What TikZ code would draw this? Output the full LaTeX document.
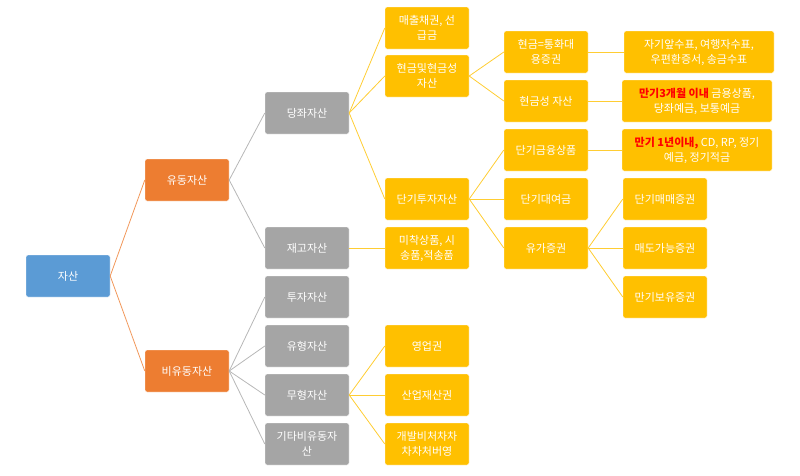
\documentclass[tikz,border=0pt]{standalone}
\usepackage{fontspec}
\setmainfont{Noto Sans CJK KR}
\usetikzlibrary{calc}
\definecolor{cblue}{HTML}{5B9BD5}
\definecolor{corange}{HTML}{ED7D31}
\definecolor{cgray}{HTML}{A5A5A5}
\definecolor{cyellow}{HTML}{FFC000}
\definecolor{cred}{HTML}{FF0000}
\newcommand{\hot}[1]{{\color{cred}\bfseries #1}}

\begin{document}
\begin{tikzpicture}[x=1pt,y=-1pt,
 box/.style = {rectangle, rounded corners=2pt, draw=white, text=white, align=center, minimum height=42pt, minimum width=84pt, inner sep=1pt, font=\fontsize{11}{15}\selectfont},
 root/.style = {box, fill=cblue},
 lvone/.style = {box, fill=corange},
 lvtwo/.style = {box, fill=cgray},
 lvthree/.style = {box, fill=cyellow},
 wide/.style = {lvthree, minimum width=150pt},
 link/.style = {line width=0.8pt}
]
\useasboundingbox (0,0) rectangle (800,475);

\node (asset)[root] at (68,276) {자산};
\node (current)[lvone] at (187,180) {유동자산};
\node (noncurrent)[lvone] at (187,371) {비유동자산};

\node (quick)[lvtwo] at (307,113) {당좌자산};
\node (stock)[lvtwo] at (307,248) {재고자산};
\node (invest)[lvtwo] at (307,297) {투자자산};
\node (tangible)[lvtwo] at (307,346) {유형자산};
\node (intangible)[lvtwo] at (307,395) {무형자산};
\node (othernc)[lvtwo] at (307,444) {기타비유동자\\산};

\node (receivable)[lvthree] at (427,28) {매출채권, 선\\급금};
\node (cash)[lvthree] at (427,76) {현금및현금성\\자산};
\node (shortinv)[lvthree] at (427,199) {단기투자자산};
\node (goods)[lvthree] at (427,248) {미착상품, 시\\송품,적송품};
\node (goodwill)[lvthree] at (427,346) {영업권};
\node (property)[lvthree] at (427,395) {산업재산권};
\node (devcost)[lvthree] at (427,444) {개발비처차차\\차차처버영};

\node (currency)[lvthree] at (546,52) {현금=통화대\\용증권};
\node (cashlike)[lvthree] at (546,101) {현금성 자산};
\node (finprod)[lvthree] at (546,150) {단기금융상품};
\node (loan)[lvthree] at (546,199) {단기대여금};
\node (securities)[lvthree] at (546,248) {유가증권};

\node (cheque)[wide] at (699,52) {자기앞수표, 여행자수표,\\우편환증서, 송금수표};
\node (threemonth)[wide] at (697,101) {\hot{만기3개월 이내} 금용상품,\\당좌예금, 보통예금};
\node (oneyear)[wide] at (697,150) {\hot{만기 1년이내,} CD, RP, 정기\\예금, 정기적금};
\node (trading)[lvthree] at (665,199) {단기매매증권};
\node (forsale)[lvthree] at (665,248) {매도가능증권};
\node (maturity)[lvthree] at (665,297) {만기보유증권};

% connectors
\foreach \a/\b in {asset/current, asset/noncurrent}
  \draw[link, corange!80] (\a.east) -- (\b.west);
\foreach \a/\b in {current/quick, current/stock, noncurrent/invest, noncurrent/tangible, noncurrent/intangible, noncurrent/othernc}
  \draw[link, cgray!80] (\a.east) -- (\b.west);
\foreach \a/\b in {quick/receivable, quick/cash, quick/shortinv, stock/goods, intangible/goodwill, intangible/property, intangible/devcost, cash/currency, cash/cashlike, shortinv/finprod, shortinv/loan, shortinv/securities, currency/cheque, cashlike/threemonth, finprod/oneyear, securities/trading, securities/forsale, securities/maturity}
  \draw[link, cyellow!80] (\a.east) -- (\b.west);

\end{tikzpicture}
\end{document}
